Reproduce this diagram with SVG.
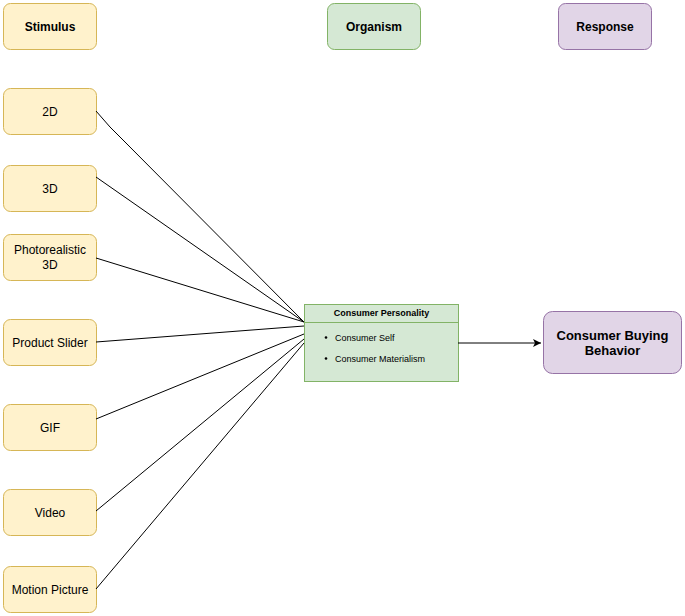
<svg xmlns="http://www.w3.org/2000/svg" width="685" height="616" viewBox="0 0 685 616">
<defs>
<style>
.s rect{fill:#fff2cc;stroke:#d6b656;stroke-width:1}
.g rect{fill:#d5e8d4;stroke:#82b366;stroke-width:1}
.p rect{fill:#e1d5e7;stroke:#9673a6;stroke-width:1}
text{font-family:"Liberation Sans",Arial,sans-serif;fill:#000;text-anchor:middle}
.lbl{font-size:12px}
.hdr{font-size:12px;font-weight:bold}
.conn path{fill:none;stroke:#000;stroke-width:1}
</style>
<marker id="arr" markerWidth="10" markerHeight="10" refX="8" refY="4" orient="auto" markerUnits="userSpaceOnUse">
<path d="M0,0 L8,4 L0,8 L2,4 Z" fill="#000"/>
</marker>
</defs>
<rect width="685" height="616" fill="#fff"/>
<g id="stimulus" class="s"><rect x="3.5" y="3.5" width="93" height="46" rx="7"/><text class="hdr" x="50" y="30.5">Stimulus</text></g>
<g id="organism" class="g"><rect x="327.5" y="3.5" width="93" height="46" rx="7"/><text class="hdr" x="374" y="30.5">Organism</text></g>
<g id="response" class="p"><rect x="558.5" y="3.5" width="93" height="46" rx="7"/><text class="hdr" x="605" y="30.5">Response</text></g>

<g id="n2d" class="s"><rect x="3.5" y="88.5" width="93" height="46" rx="7"/><text class="lbl" x="50" y="115.5">2D</text></g>
<g id="n3d" class="s"><rect x="3.5" y="165.5" width="93" height="46" rx="7"/><text class="lbl" x="50" y="192.5">3D</text></g>
<g id="nphoto" class="s"><rect x="3.5" y="234.5" width="93" height="46" rx="7"/><text class="lbl" x="50" y="254">Photorealistic</text><text class="lbl" x="50" y="269">3D</text></g>
<g id="nslider" class="s"><rect x="3.5" y="319.5" width="93" height="46" rx="7"/><text class="lbl" x="50" y="346.5">Product Slider</text></g>
<g id="ngif" class="s"><rect x="3.5" y="404.5" width="93" height="46" rx="7"/><text class="lbl" x="50" y="431.5">GIF</text></g>
<g id="nvideo" class="s"><rect x="3.5" y="489.5" width="93" height="46" rx="7"/><text class="lbl" x="50" y="516.5">Video</text></g>
<g id="nmotion" class="s"><rect x="3.5" y="566.5" width="93" height="46" rx="7"/><text class="lbl" x="50" y="593.5">Motion Picture</text></g>

<g id="personality" class="g">
<rect x="304.5" y="304.5" width="154" height="77"/>
<line x1="304.5" y1="322.5" x2="458.5" y2="322.5" stroke="#82b366" stroke-width="1"/>
<text x="381.5" y="316" style="font-size:9px;font-weight:bold">Consumer Personality</text>
<circle cx="326" cy="337.5" r="1.3" fill="#000"/>
<text x="335" y="340.5" style="font-size:9px;text-anchor:start">Consumer Self</text>
<circle cx="326" cy="358.5" r="1.3" fill="#000"/>
<text x="335" y="361.5" style="font-size:9px;text-anchor:start">Consumer Materialism</text>
</g>
<g id="buying" class="p"><rect x="543.5" y="311.5" width="138" height="62" rx="9"/><text x="612.5" y="339.5" style="font-size:13px;font-weight:bold">Consumer Buying</text><text x="612.5" y="355" style="font-size:13px;font-weight:bold">Behavior</text></g>

<g id="connectors" class="conn">
<path d="M96,111 Q110,128 124,141 L304,322"/>
<path d="M96,177 L304,322"/>
<path d="M96,258 L304,322"/>
<path d="M96,342 L304,326"/>
<path d="M96,419 L304,334"/>
<path d="M96,511 L304,339"/>
<path d="M96,589 L304,343"/>
<path d="M458,343 L541,343" marker-end="url(#arr)"/>
</g>
</svg>
